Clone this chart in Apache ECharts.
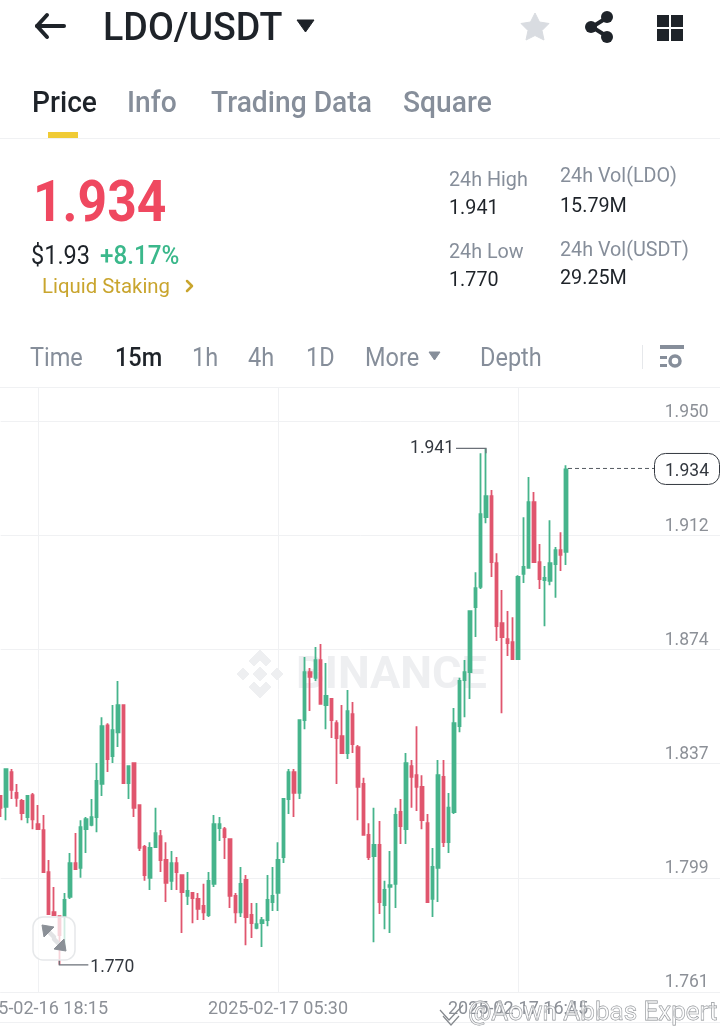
<!DOCTYPE html>
<html lang="en">
<head>
<meta charset="utf-8">
<title>LDO/USDT</title>
<style>
    html, body { margin: 0; padding: 0; background: #fff; }
    #main { width: 720px; height: 1033px; }
</style>
<script src="https://cdn.jsdelivr.net/npm/echarts@6/dist/echarts.min.js"></script>
</head>
<body>
<div id="main"></div>
<script type="text/javascript">
// 15m candles
var opens = [
    1.8259,1.8223,1.8338,1.8269,1.8243,1.8189,1.8262,1.8166,1.8146,1.8007,
    1.7874,1.7861,1.7861,1.7925,1.8037,1.8021,1.8149,1.8163,1.8189,1.8299,
    1.8493,1.8391,1.8470,1.8560,1.8302,1.8368,1.8229,1.8090,1.7988,1.8090,
    1.8126,1.8047,1.7978,1.8037,1.7997,1.7928,1.7938,1.7918,1.7895,1.7865,
    1.7968,1.8153,1.8149,1.8116,1.7928,1.7874,1.7981,1.7865,1.7822,1.7838,
    1.7848,1.7908,1.7938,1.8057,1.8249,1.8338,1.8269,1.8510,1.8669,1.8650,
    1.8709,1.8560,1.8580,1.8500,1.8457,1.8401,1.8530,1.8421,1.8299,1.8130,
    1.8060,1.8097,1.7898,1.7958,1.7968,1.8206,1.8149,1.8358,1.8328,1.8289,
    1.8169,1.7918,1.8021,1.8322,1.8106,1.8206,1.8490,1.8643,1.8669,1.8884,
    1.8951,1.9182,1.9252,1.9030,1.8831,1.8778,1.8768,1.8712,1.8994,1.9014,
    1.9232,1.9033,1.8974,1.8971,1.9027,1.9073,1.9067
];
var closes = [
    1.8220,1.8348,1.8279,1.8253,1.8202,1.8259,1.8182,1.8149,1.8007,1.7868,
    1.7865,1.7798,1.7915,1.8037,1.8017,1.8156,1.8182,1.8189,1.8309,1.8490,
    1.8381,1.8477,1.8560,1.8302,1.8358,1.8220,1.8087,1.7997,1.8087,1.8136,
    1.8047,1.7971,1.8037,1.8007,1.7941,1.7945,1.7921,1.7885,1.7874,1.7978,
    1.8166,1.8166,1.8123,1.7928,1.7874,1.7968,1.7858,1.7838,1.7835,1.7848,
    1.7915,1.7928,1.8047,1.8249,1.8338,1.8269,1.8510,1.8669,1.8653,1.8709,
    1.8564,1.8590,1.8510,1.8451,1.8401,1.8540,1.8431,1.8289,1.8130,1.8057,
    1.8097,1.7908,1.7948,1.7964,1.8196,1.8159,1.8368,1.8322,1.8289,1.8179,
    1.7908,1.8024,1.8328,1.8106,1.8220,1.8500,1.8640,1.8669,1.8871,1.8947,
    1.9192,1.9252,1.9033,1.8821,1.8785,1.8765,1.8712,1.8984,1.9017,1.9232,
    1.9033,1.8977,1.8981,1.9030,1.9073,1.9057,1.9340
];
var lows = [
    1.8189,1.8179,1.8249,1.8223,1.8179,1.8169,1.8149,1.8149,1.8007,1.7868,
    1.7865,1.7700,1.7749,1.7918,1.8017,1.7988,1.8070,1.8159,1.8139,1.8259,
    1.8338,1.8368,1.8421,1.8302,1.8249,1.8189,1.8077,1.7978,1.7948,1.8090,
    1.8007,1.7908,1.7948,1.7948,1.7805,1.7898,1.7838,1.7848,1.7848,1.7858,
    1.7958,1.8110,1.8050,1.7888,1.7838,1.7858,1.7765,1.7789,1.7818,1.7759,
    1.7828,1.7878,1.7878,1.8037,1.8199,1.8189,1.8249,1.8480,1.8540,1.8640,
    1.8564,1.8480,1.8451,1.8299,1.8401,1.8381,1.8401,1.8179,1.8130,1.8047,
    1.7775,1.7868,1.7818,1.7805,1.7888,1.8100,1.8100,1.8220,1.8209,1.8149,
    1.7908,1.7858,1.7908,1.8090,1.8070,1.8199,1.8470,1.8520,1.8580,1.8785,
    1.8944,1.9162,1.8984,1.8772,1.8533,1.8722,1.8712,1.8712,1.8964,1.9014,
    1.9033,1.8944,1.8821,1.8957,1.8915,1.9004,1.9024
];
var highs = [
    1.8259,1.8348,1.8348,1.8299,1.8249,1.8259,1.8269,1.8229,1.8196,1.8047,
    1.7958,1.7861,1.7938,1.8070,1.8136,1.8179,1.8189,1.8249,1.8368,1.8520,
    1.8500,1.8560,1.8640,1.8560,1.8358,1.8368,1.8229,1.8097,1.8106,1.8220,
    1.8146,1.8106,1.8077,1.8057,1.7997,1.8007,1.7938,1.7938,1.7968,1.8007,
    1.8196,1.8189,1.8156,1.8116,1.7938,1.8024,1.7997,1.7905,1.7905,1.7858,
    1.7997,1.8024,1.8106,1.8249,1.8348,1.8348,1.8510,1.8719,1.8683,1.8752,
    1.8762,1.8699,1.8580,1.8510,1.8560,1.8610,1.8570,1.8428,1.8319,1.8169,
    1.8220,1.8176,1.7978,1.8077,1.8220,1.8249,1.8401,1.8378,1.8490,1.8328,
    1.8199,1.8087,1.8378,1.8378,1.8269,1.8550,1.8650,1.8709,1.8871,1.9000,
    1.9394,1.9410,1.9272,1.9063,1.8941,1.8871,1.8851,1.8990,1.9182,1.9315,
    1.9265,1.9093,1.9020,1.9172,1.9083,1.9132,1.9354
];

var yTicks = [1.761, 1.7988, 1.8366, 1.8744, 1.9122, 1.95];
var timeTicks = ['2025-02-16 18:15', '2025-02-17 05:30', '2025-02-17 16:45'];
var highMark = [91, 1.941];
var lowMark = [11, 1.770];
var lastMark = [106, 1.934];

// one category per 15 minutes, starting 16:30, room left on the right
var categories = [];
var startMs = Date.UTC(2025, 1, 16, 16, 30);
for (var i = 0; i < 136; i++) {
    categories.push(new Date(startMs + i * 900000).toISOString().slice(0, 16).replace('T', ' '));
}
var candles = opens.map(function (o, i) {
    return [o, closes[i], lows[i], highs[i]];
});

var UP = '#46B48C', DOWN = '#E0566E', DARK = '#1E2329', GREY = '#868E9A', AXIS = '#8C9097', LINE = '#F0F1F3';
var FONT = 'Roboto';

function isTimeTick(idx) {
    return timeTicks.indexOf(categories[idx]) >= 0;
}

// text is squeezed a little, the reference screenshot is stretched tall
function label(x, y, text, size, color, weight, sx) {
    return {
        type: 'text', x: x, y: y + 2, scaleX: sx || 0.94, z: 5, silent: true,
        style: {
            x: 0, y: 0, text: text, fill: color, fontFamily: FONT,
            fontSize: size, fontWeight: weight || 400, verticalAlign: 'middle'
        }
    };
}
function poly(points, color, width) {
    return {
        type: 'polyline', z: 5, silent: true, shape: { points: points },
        style: { stroke: color, lineWidth: width, fill: null, lineJoin: 'round', lineCap: 'round' }
    };
}
function fillPoly(points, color, z) {
    return { type: 'polygon', z: z || 5, silent: true, shape: { points: points }, style: { fill: color, stroke: color, lineWidth: 1, lineJoin: 'round' } };
}
function box(x, y, w, h, color, z) {
    return { type: 'rect', z: z || 5, silent: true, shape: { x: x, y: y, width: w, height: h }, style: { fill: color } };
}
function circle(x, y, r, color) {
    return { type: 'circle', z: 5, silent: true, shape: { cx: x, cy: y, r: r }, style: { fill: color } };
}

var chrome = [
    // top bar
    poly([[47, 15], [37, 26], [47, 37]], DARK, 4),
    poly([[37, 26], [64, 26]], DARK, 4),
    label(103, 28, 'LDO/USDT', 38, DARK, 500, 0.99),
    fillPoly([[297, 20], [314, 20], [305.5, 32]], DARK),
    fillPoly([[535, 13], [539.5, 22], [549, 23.5], [542, 30.5], [544, 40], [535, 35.5], [526, 40], [528, 30.5], [521, 23.5], [530.5, 22]], '#D9DCE1'),
    poly([[608, 17], [592, 27], [608, 37]], DARK, 4),
    circle(607, 17, 6, DARK), circle(591, 27, 6, DARK), circle(607, 37, 6, DARK),
    box(657, 15, 12, 12, DARK), box(671, 15, 12, 12, DARK),
    box(657, 29, 12, 12, DARK), box(671, 29, 12, 12, DARK),

    // tabs
    label(32, 102, 'Price', 30, DARK, 500),
    label(127, 102, 'Info', 30, GREY, 500),
    label(211, 102, 'Trading Data', 30, GREY, 500),
    label(403, 102, 'Square', 30, GREY, 500),
    box(48, 132, 30, 6, '#F0CB35'),
    box(0, 138, 720, 1, LINE),

    // price block
    label(33, 204, '1.934', 58, '#EF4860', 700, 0.89),
    label(31, 256, '$1.93', 25, DARK),
    label(100, 256, '+8.17%', 25, '#3BB88B', 500, 0.97),
    label(42, 286, 'Liquid Staking', 21, '#C9A52E', 400, 0.97),
    poly([[187, 281], [192, 286], [187, 291]], '#C9A52E', 2.5),

    label(449, 179, '24h High', 21, GREY),
    label(449, 207, '1.941', 21, DARK),
    label(449, 251, '24h Low', 21, GREY),
    label(449, 279, '1.770', 21, DARK),
    label(560, 175, '24h Vol(LDO)', 21, GREY),
    label(560, 205, '15.79M', 21, DARK),
    label(560, 249, '24h Vol(USDT)', 21, GREY),
    label(560, 277, '29.25M', 21, DARK),

    // interval bar
    label(30, 358, 'Time', 25, GREY),
    label(115, 358, '15m', 25, DARK, 500),
    label(192, 358, '1h', 25, GREY),
    label(248, 358, '4h', 25, GREY),
    label(306, 358, '1D', 25, GREY),
    label(365, 358, 'More', 25, GREY),
    fillPoly([[429, 352], [440, 352], [434.5, 360]], GREY),
    label(480, 358, 'Depth', 25, GREY),
    box(642, 345, 1, 24, '#E6E8EB'),
    box(660, 345, 24, 4, GREY), box(660, 356, 7, 3, GREY), box(660, 364, 7, 3, GREY),
    { type: 'circle', z: 5, silent: true, shape: { cx: 675, cy: 361, r: 5 }, style: { fill: '#fff', stroke: GREY, lineWidth: 3.5 } },
    box(0, 387, 720, 1, LINE),

    // BINANCE mark behind the candles
    fillPoly([[260, 650], [271, 661], [266, 666], [260, 660], [254, 666], [249, 661]], '#EEEFF1', 0),
    fillPoly([[260, 698], [271, 687], [266, 682], [260, 688], [254, 682], [249, 687]], '#EEEFF1', 0),
    fillPoly([[260, 667], [267, 674], [260, 681], [253, 674]], '#EEEFF1', 0),
    fillPoly([[243, 668], [249, 674], [243, 680], [237, 674]], '#EEEFF1', 0),
    fillPoly([[277, 668], [283, 674], [277, 680], [271, 674]], '#EEEFF1', 0),
    {
        type: 'text', x: 296, y: 677, z: 0, silent: true,
        style: { x: 0, y: 0, text: 'BINANCE', fill: '#EEEFF1', fontFamily: FONT, fontSize: 45, fontWeight: 700, verticalAlign: 'middle' }
    },

    // expand button over the candles
    {
        type: 'rect', z: 50, silent: true, shape: { x: 33, y: 917, width: 42, height: 43, r: 10 },
        style: { fill: 'rgba(255,255,255,0.75)', stroke: '#E6E8EA', lineWidth: 1.5 }
    },
    fillPoly([[42, 925], [54, 927], [44, 937]], '#8B9097', 51),
    poly([[47, 930], [54, 937]], '#8B9097', 4.5),
    fillPoly([[66, 951], [54, 949], [64, 939]], '#8B9097', 51),
    poly([[61, 946], [54, 939]], '#8B9097', 4.5),

    // bottom rule and repost watermark
    box(0, 1022, 720, 1, LINE),
    {
        type: 'polyline', z: 60, silent: true, shape: { points: [[440, 1010], [449, 1020], [463, 1005]] },
        style: { stroke: '#85898E', lineWidth: 1.2, fill: null }
    },
    {
        type: 'polyline', z: 60, silent: true, shape: { points: [[443, 1016], [451, 1025], [459, 1016]] },
        style: { stroke: '#85898E', lineWidth: 1.2, fill: null }
    },
    {
        type: 'text', x: 468, y: 1013, z: 60, silent: true,
        style: {
            x: 0, y: 0, text: '@Aown Abbas Expert', fill: 'rgba(255,255,255,0.55)', stroke: '#85898E', lineWidth: 0.8,
            fontFamily: FONT, fontSize: 26, verticalAlign: 'middle'
        }
    }
];

function renderExtreme(params, api) {
    var p = api.coord([api.value(0), api.value(1)]);
    var isHigh = api.value(0) === highMark[0];
    var text = api.value(1).toFixed(3);
    if (isHigh) {
        return {
            type: 'group', children: [
                { type: 'polyline', shape: { points: [[p[0], p[1] + 5], [p[0], p[1]], [p[0] - 30, p[1]]] }, style: { stroke: '#6B7078', lineWidth: 1.2, fill: null } },
                { type: 'text', x: p[0] - 32, y: p[1], style: { text: text, fill: '#33383F', fontFamily: FONT, fontSize: 17.5, align: 'right', verticalAlign: 'middle' } }
            ]
        };
    }
    return {
        type: 'group', children: [
            { type: 'polyline', shape: { points: [[p[0], p[1] - 5], [p[0], p[1]], [p[0] + 29, p[1]]] }, style: { stroke: '#6B7078', lineWidth: 1.2, fill: null } },
            { type: 'text', x: p[0] + 31, y: p[1] + 3, style: { text: text, fill: '#33383F', fontFamily: FONT, fontSize: 17.5, align: 'left', verticalAlign: 'middle' } }
        ]
    };
}

function renderLast(params, api) {
    var p = api.coord([api.value(0), api.value(1)]);
    return {
        type: 'group', children: [
            { type: 'line', shape: { x1: p[0] + 2, y1: p[1] - 1, x2: 654, y2: p[1] - 1 }, style: { stroke: '#555A62', lineWidth: 1, lineDash: [4, 3] } },
            { type: 'rect', shape: { x: 654.5, y: p[1] - 16, width: 65, height: 31, r: 11 }, style: { fill: '#fff', stroke: '#33383F', lineWidth: 1 } },
            { type: 'text', x: 687, y: p[1] + 2, style: { text: api.value(1).toFixed(3), fill: '#33383F', fontFamily: FONT, fontSize: 17.5, align: 'center', verticalAlign: 'middle' } }
        ]
    };
}

var chart = echarts.init(document.getElementById('main'), null, { renderer: 'canvas' });
chart.setOption({
    animation: false,
    backgroundColor: '#fff',
    grid: { left: 0.67, top: 387, width: 720, height: 605, outerBoundsMode: 'none' },
    xAxis: {
        type: 'category',
        data: categories,
        boundaryGap: false,
        axisLine: { lineStyle: { color: LINE } },
        axisTick: { show: false },
        axisLabel: {
            interval: function (idx) { return isTimeTick(idx); },
            color: AXIS, fontFamily: FONT, fontSize: 18, margin: 8
        },
        splitLine: {
            show: true,
            interval: function (idx) { return isTimeTick(idx); },
            lineStyle: { color: LINE, width: 1 }
        }
    },
    yAxis: {
        type: 'value',
        position: 'right',
        min: 1.761,
        max: 1.9613,
        axisLine: { show: false },
        axisTick: { show: false, customValues: yTicks },
        axisLabel: {
            customValues: yTicks,
            inside: true,
            margin: 12,
            color: AXIS, fontFamily: FONT, fontSize: 17.5,
            verticalAlign: 'bottom', lineHeight: 18,
            formatter: function (v) { return v.toFixed(3); }
        },
        splitLine: { show: true, lineStyle: { color: LINE, width: 1 } }
    },
    series: [
        {
            type: 'candlestick',
            data: candles,
            barWidth: 3,
            clip: false,
            itemStyle: { color: UP, color0: DOWN, borderColor: UP, borderColor0: DOWN, borderWidth: 1.8 }
        },
        {
            type: 'custom',
            data: [highMark, lowMark],
            encode: { x: 0, y: 1 },
            clip: false,
            silent: true,
            z: 3,
            renderItem: renderExtreme
        },
        {
            type: 'custom',
            data: [lastMark],
            encode: { x: 0, y: 1 },
            clip: false,
            silent: true,
            z: 3,
            renderItem: renderLast
        }
    ],
    graphic: { elements: chrome }
});
</script>
</body>
</html>
